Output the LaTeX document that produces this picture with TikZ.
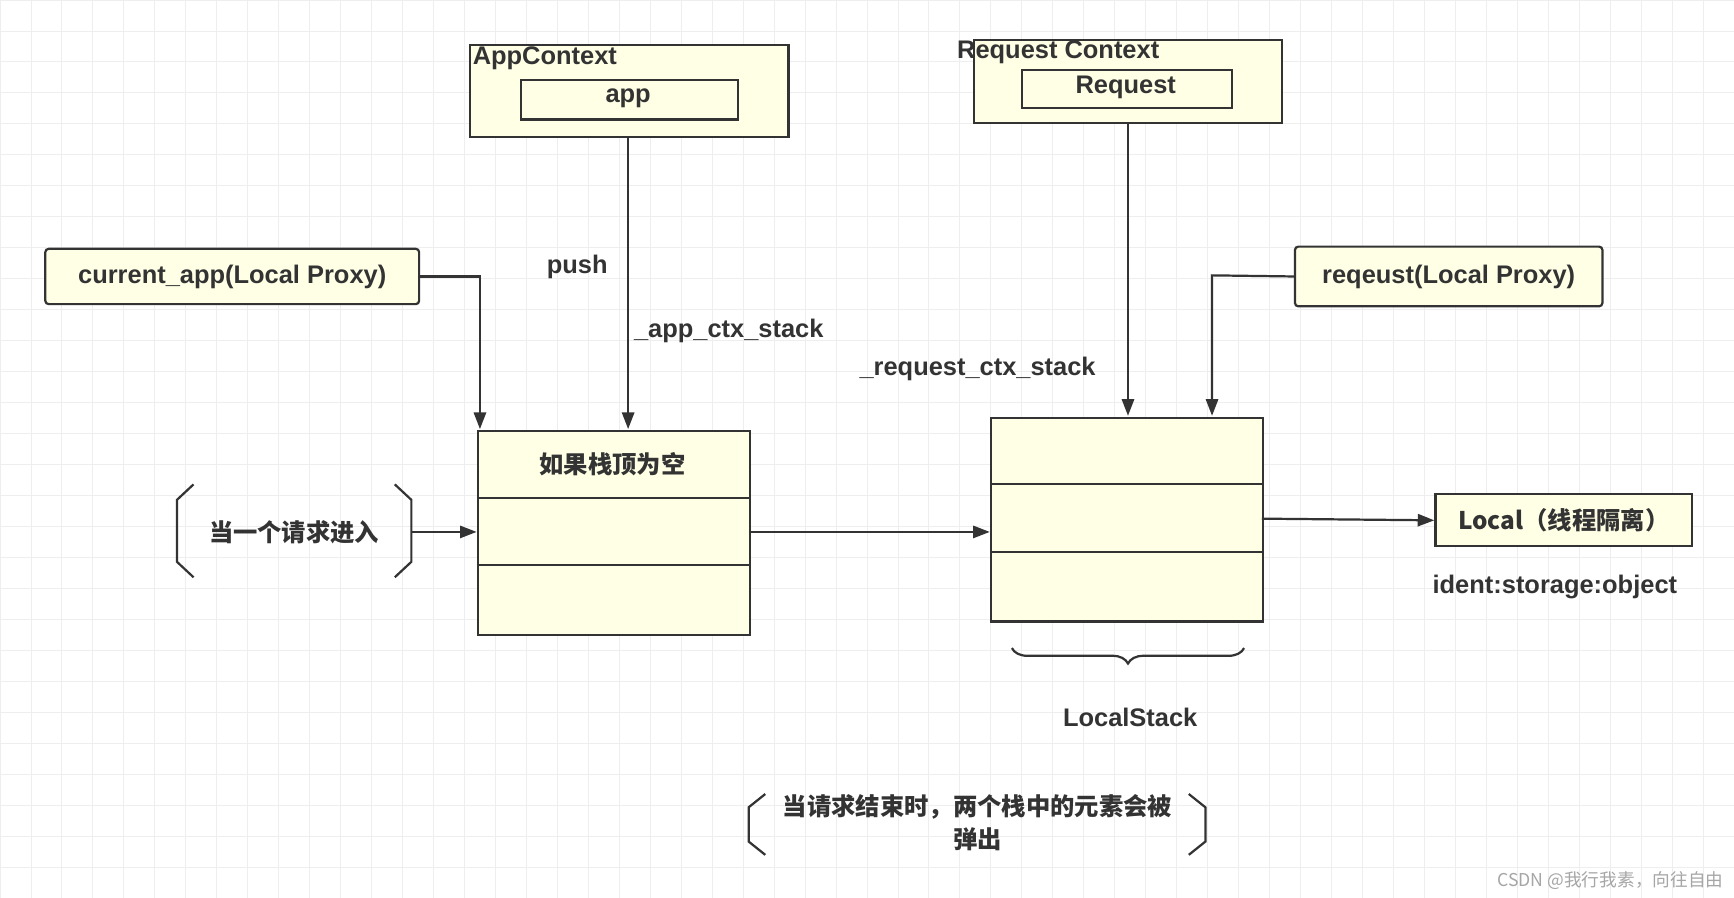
\documentclass[tikz,border=0pt]{standalone}
\usepackage{fontspec}
\setmainfont{Liberation Sans}
\newfontfamily\cjk{Noto Sans CJK SC}
\usetikzlibrary{arrows.meta,decorations.pathreplacing}
\definecolor{boxfill}{HTML}{FFFFE6}
\definecolor{ln}{HTML}{333333}
\begin{document}
\begin{tikzpicture}[x=1pt,y=-1pt,
  box/.style={draw=ln,line width=2pt,fill=boxfill},
  txt/.style={font=\fontsize{23}{26}\selectfont\bfseries,text=ln},
  ctxt/.style={font=\cjk\fontsize{22}{30}\selectfont\bfseries,text=ln},
  arr/.style={draw=ln,line width=2pt,-{Triangle[length=15pt,width=11pt]}}]
\useasboundingbox (0,0) rectangle (1568,812);
\fill[white] (0,0) rectangle (1568,812);
\foreach \i in {0,28,...,1568} \draw[gray!13,line width=0.8pt] (\i,0) -- (\i,812);
\foreach \j in {0,28,...,812} \draw[gray!13,line width=0.8pt] (0,\j) -- (1568,\j);
% AppContext
\node[box,minimum width=288,minimum height=83,anchor=north west] (appctx) at (424,40) {};
\node[txt,anchor=west] (appctxl) at (424,53) {AppContext};
\node[box,minimum width=196,minimum height=36,anchor=north west] (app) at (470,71) {};
\node[txt] (appl) at (568,89) {app};
% Request Context
\node[box,minimum width=278,minimum height=75,anchor=north west] (reqctx) at (880,35) {};
\node[txt,anchor=west] (reqctxl) at (862,47) {Request Context};
\node[box,minimum width=190,minimum height=35,anchor=north west] (req) at (923,62) {};
\node[txt] (reql) at (1018,79) {Request};
% proxies
\node[box,rounded corners=3pt,minimum width=338,minimum height=50,anchor=north west,txt] (capp) at (40,224) {current\_app(Local Proxy)};
\node[box,rounded corners=3pt,minimum width=278,minimum height=54,anchor=north west,txt] (rproxy) at (1170,222) {reqeust(Local Proxy)};
% left stack
\node[box,minimum width=246,minimum height=184,anchor=north west] (ls) at (431,389) {};
\draw[ln,line width=2pt] (431,450) -- (677,450) (431,511) -- (677,511);
\node[ctxt] (lst) at (554,420) {如果栈顶为空};
% right stack
\node[box,minimum width=246,minimum height=184,anchor=north west] (rs) at (895,377) {};
\draw[ln,line width=2pt] (895,438) -- (1141,438) (895,499) -- (1141,499);
% Local
\node[box,minimum width=232,minimum height=47,anchor=north west,ctxt] (local) at (1297,446) {Local（线程隔离）};
\node[txt] (ident) at (1406,531) {ident:storage:object};
% bracket left
\node[ctxt] (enter) at (266,481) {当一个请求进入};
\draw[ln,line width=2pt] (175,438) -- (160,452) -- (160,508) -- (175,522);
\draw[ln,line width=2pt] (357,438) -- (372,452) -- (372,508) -- (357,522);
% brace
\draw[ln,line width=2pt,decorate,decoration={brace,mirror,amplitude=14pt}] (915,586) -- (1125,586);
\node[txt] (lstack) at (1022,649) {LocalStack};
% bottom bracket
\node[ctxt,align=center] (endt) at (884,744) {当请求结束时，两个栈中的元素会被\\弹出};
\draw[ln,line width=2pt] (692,718) -- (677,730) -- (677,761) -- (692,773);
\draw[ln,line width=2pt] (1075,718) -- (1090,730) -- (1090,761) -- (1075,773);
% labels
\node[txt] (push) at (522,241) {push};
\node[txt] (acs) at (659,299) {\_app\_ctx\_stack};
\node[txt] (rcs) at (884,334) {\_request\_ctx\_stack};
% arrows
\draw[arr] (appctx.south -| 568,0) -- (568,388);
\draw[arr] (capp.east) -- (434,250) -- (434,388);
\draw[arr] (reqctx.south -| 1020,0) -- (1020,376);
\draw[arr] (rproxy.west) -- (1096,249) -- (1096,376);
\draw[arr] (372,481) -- (ls.west |- 0,481);
\draw[arr] (677,481) -- (rs.west |- 0,481);
\draw[arr] (1141,469) -- (local.west);
% watermark
\node[text=gray!70,font=\cjk\fontsize{16}{18}\selectfont,anchor=east] (wm) at (1562,796) {CSDN @我行我素，向往自由};
\end{tikzpicture}
\end{document}
